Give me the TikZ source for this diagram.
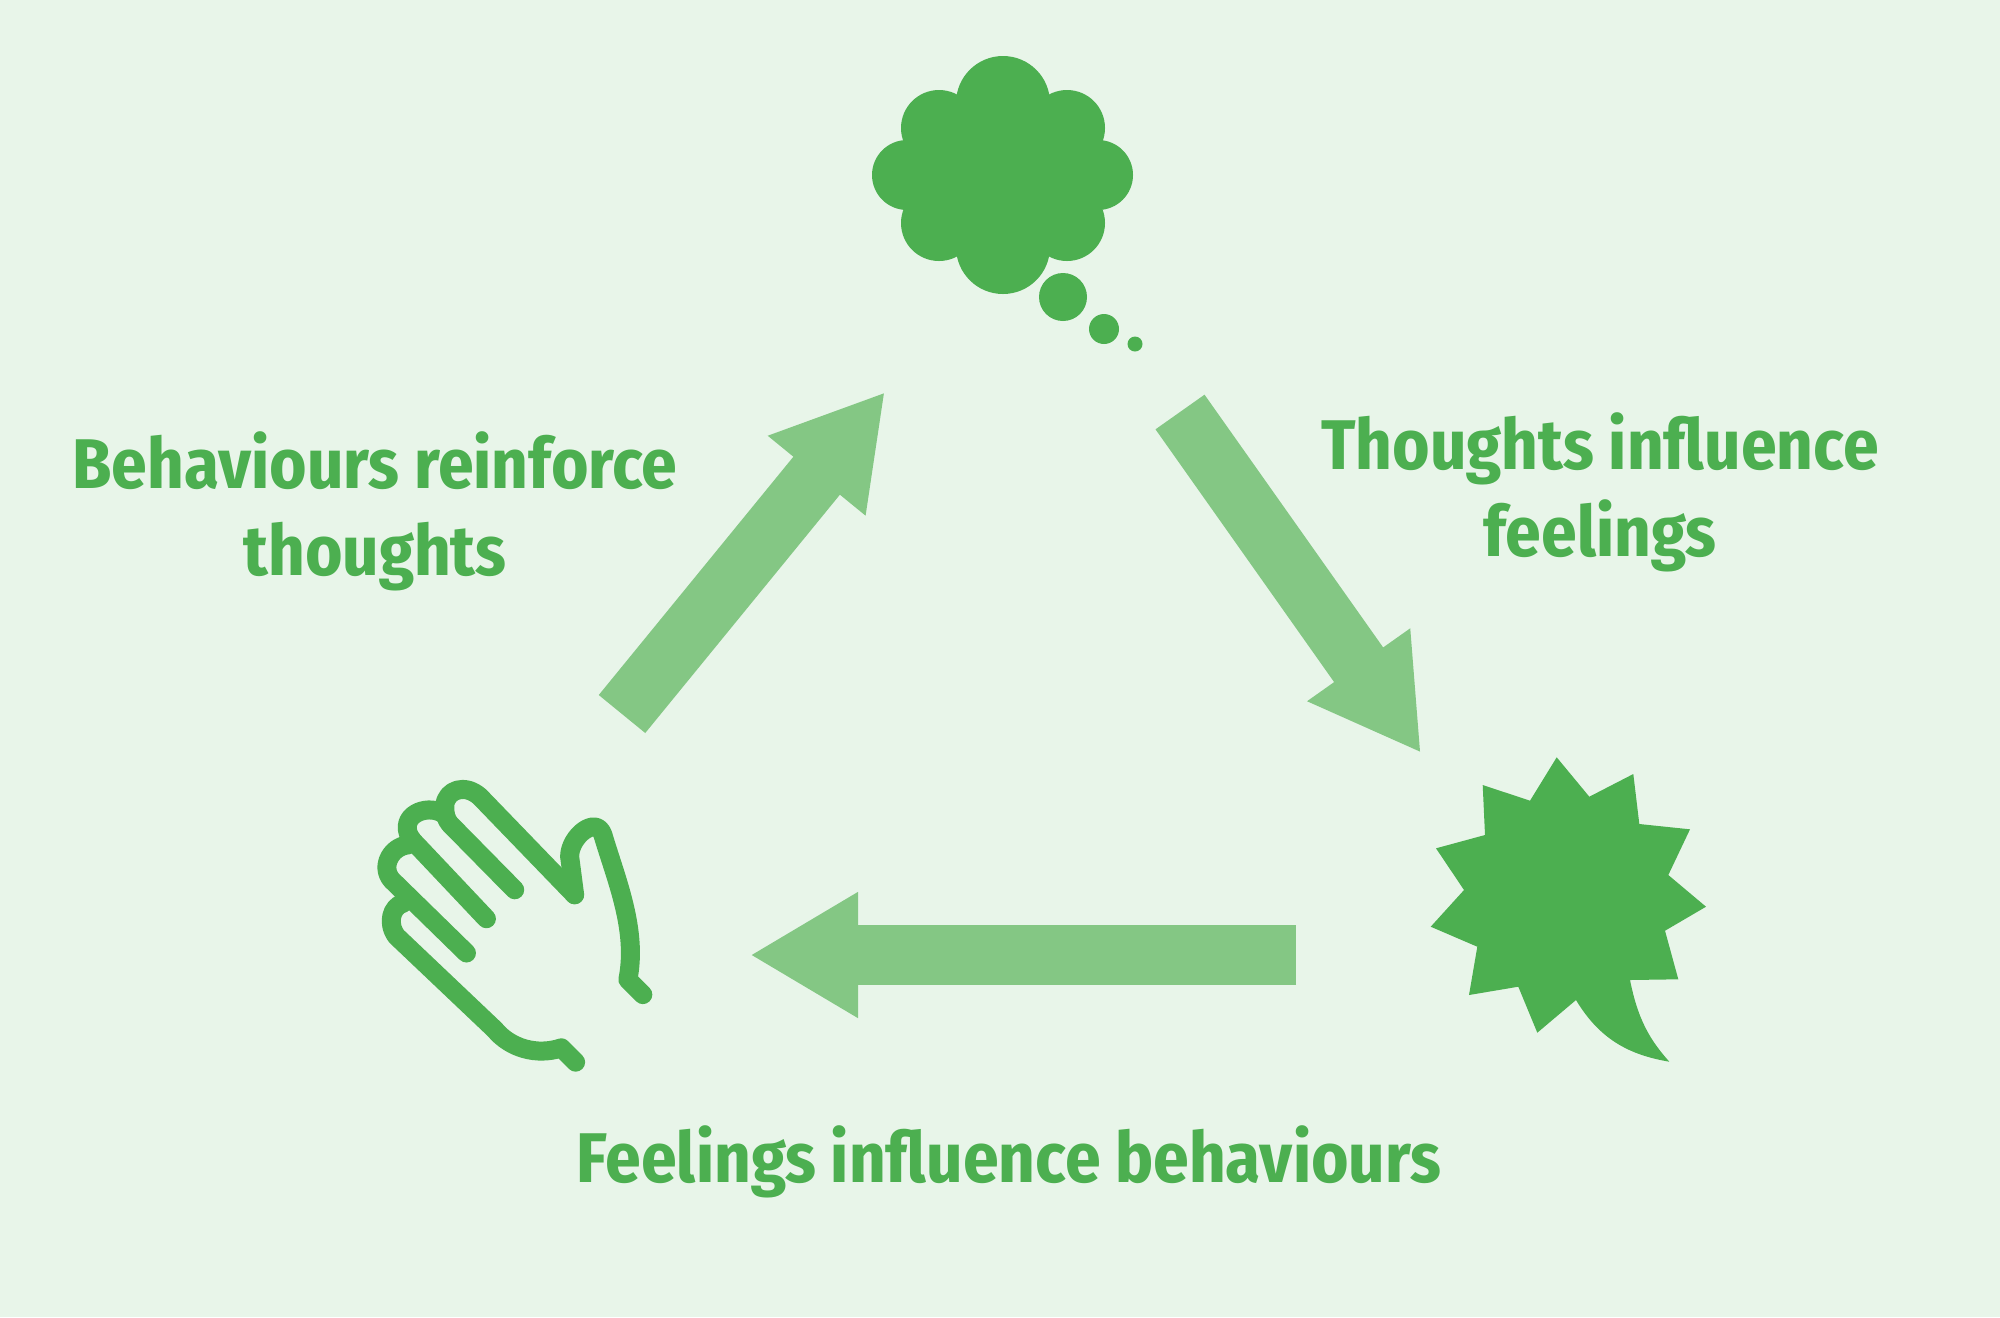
\documentclass[tikz,border=0pt]{standalone}
\usepackage{fontspec}
\usetikzlibrary{arrows.meta}
\setmainfont{Fira Sans Condensed}
\definecolor{bgpale}{HTML}{E8F5E9}
\definecolor{leaf}{HTML}{4CAF50}
\definecolor{leaflight}{HTML}{84C784}
\tikzset{
    cycarrow/.style={draw=leaflight, line width=.6cm,
        -{Triangle[length=1.08cm, width=1.18cm]}},
    cyclabel/.style={text=leaf, align=center, inner sep=0pt,
        font=\fontsize{20}{24.7}\selectfont\bfseries},
    handline/.style={draw=leaf, line width=.19cm, line cap=round, line join=round},
    zoomed/.style={x=.0033333cm, y=-.0033333cm},
}

\begin{document}
\begin{tikzpicture}[x=.01cm, y=-.01cm]
    \fill[bgpale] (0, 0) rectangle (2000, 1317);
    \useasboundingbox (0, 0) rectangle (2000, 1317);

    % Thought cloud
    \foreach \cx/\cy/\r in {1003/103/47, 1003/247/47, 907/175/35, 1098/175/35,
            939/128/38, 1067/128/38, 939/223/38, 1067/223/38, 1003/175/85,
            1063/297/24, 1104/329/15, 1135/344/7.5}
        \fill[leaf] (\cx, \cy) circle[radius=\r*.01cm];

    % Feeling burst
    \fill[leaf] (1556.7, 757.3) -- (1589.3, 796.7) -- (1633.3, 774)
        -- (1639.3, 824) -- (1690, 829.3) -- (1668.3, 875) -- (1706, 906.7)
        -- (1665, 930.7) -- (1678.3, 979.3) -- (1630, 980)
        .. controls (1638, 1020) and (1650, 1040) .. (1669.3, 1061.7)
        .. controls (1630, 1055) and (1600, 1040) .. (1576, 1000)
        -- (1537.3, 1032.7) -- (1518.3, 986.7) -- (1469, 995) -- (1477.3, 946.7)
        -- (1430.7, 926.7) -- (1464, 890) -- (1436, 848.3) -- (1485, 835)
        -- (1482.7, 785) -- (1530, 800.7) -- cycle;

    % Hand outline
    \begin{scope}[shift={(340, 740)}, zoomed]
        \draw[handline] (705, 465) -- (420, 170)
            .. controls (375, 130) and (320, 150) .. (315, 195)
            .. controls (313, 215) and (318, 240) .. (330, 252) -- (525, 450);
        \draw[handline] (315, 225) .. controls (270, 190) and (185, 220) .. (205, 280)
            .. controls (210, 295) and (225, 310) .. (235, 320) -- (440, 537);
        \draw[handline] (205, 315) .. controls (150, 320) and (115, 390) .. (165, 430)
            -- (380, 640);
        \draw[handline] (190, 490) .. controls (155, 500) and (140, 550) .. (170, 590)
            -- (465, 870) .. controls (510, 925) and (590, 950) .. (665, 925)
            -- (708, 968);
        \draw[handline] (705, 465) -- (690, 350)
            .. controls (690, 290) and (770, 225) .. (790, 285)
            .. controls (830, 420) and (895, 570) .. (865, 720) -- (910, 765);
    \end{scope}

    % Arrow end points
    \coordinate (behavtail) at (622, 714);
    \coordinate (thoughthead) at (885, 392);
    \coordinate (thoughttail) at (1180, 412);
    \coordinate (feelhead) at (1421, 753);
    \coordinate (feeltail) at (1296, 955);
    \coordinate (behavhead) at (750, 955);

    \draw[cycarrow] (behavtail) -- (thoughthead);
    \draw[cycarrow] (thoughttail) -- (feelhead);
    \draw[cycarrow] (feeltail) -- (behavhead);

    \node[cyclabel] (reinforce) at (375, 511) {Behaviours reinforce\\thoughts};
    \node[cyclabel] (thoughtsfeel) at (1600, 492) {Thoughts influence\\feelings};
    \node[cyclabel] (feelbehav) at (1009, 1162) {Feelings influence behaviours};
\end{tikzpicture}
\end{document}
